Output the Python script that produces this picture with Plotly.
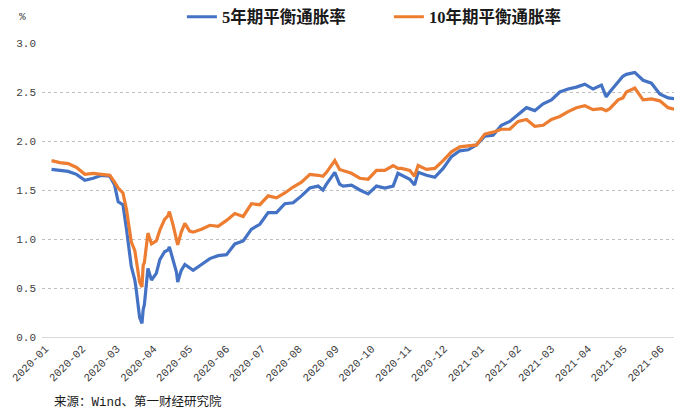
import plotly.graph_objects as go

dates = [
    "2020-01-02", "2020-01-09", "2020-01-16", "2020-01-23", "2020-01-30", "2020-02-06",
    "2020-02-13", "2020-02-20", "2020-02-24", "2020-02-27", "2020-03-02", "2020-03-05",
    "2020-03-09", "2020-03-12", "2020-03-13", "2020-03-16", "2020-03-18", "2020-03-19",
    "2020-03-20", "2020-03-23", "2020-03-26", "2020-03-30", "2020-04-02", "2020-04-06",
    "2020-04-09", "2020-04-10", "2020-04-13", "2020-04-16", "2020-04-17", "2020-04-20",
    "2020-04-23", "2020-04-27", "2020-04-30", "2020-05-07", "2020-05-14", "2020-05-21",
    "2020-05-28", "2020-06-04", "2020-06-11", "2020-06-18", "2020-06-25", "2020-07-02",
    "2020-07-09", "2020-07-16", "2020-07-23", "2020-07-30", "2020-08-06", "2020-08-13",
    "2020-08-17", "2020-08-20", "2020-08-27", "2020-08-31", "2020-09-03", "2020-09-10",
    "2020-09-17", "2020-09-24", "2020-10-01", "2020-10-08", "2020-10-15", "2020-10-19",
    "2020-10-22", "2020-10-29", "2020-11-02", "2020-11-05", "2020-11-12", "2020-11-19",
    "2020-11-26", "2020-12-03", "2020-12-10", "2020-12-17", "2020-12-24", "2020-12-31",
    "2021-01-07", "2021-01-14", "2021-01-21", "2021-01-28", "2021-02-04", "2021-02-11",
    "2021-02-18", "2021-02-25", "2021-03-04", "2021-03-11", "2021-03-18", "2021-03-25",
    "2021-04-01", "2021-04-08", "2021-04-12", "2021-04-15", "2021-04-22", "2021-04-26",
    "2021-04-29", "2021-05-06", "2021-05-13", "2021-05-20", "2021-05-27", "2021-06-03",
    "2021-06-10",
]

be_5y = [
    1.71, 1.70, 1.69, 1.66, 1.60, 1.62,
    1.65, 1.64, 1.55, 1.38, 1.35, 1.10,
    0.72, 0.58, 0.50, 0.20, 0.14, 0.28,
    0.33, 0.70, 0.58, 0.65, 0.79, 0.87,
    0.89, 0.92, 0.80, 0.66, 0.56, 0.68,
    0.74, 0.70, 0.68, 0.74, 0.80, 0.83,
    0.84, 0.95, 0.98, 1.10, 1.15, 1.27,
    1.27, 1.36, 1.37, 1.44, 1.52, 1.54,
    1.50, 1.56, 1.68, 1.56, 1.54, 1.55,
    1.50, 1.46, 1.54, 1.52, 1.54, 1.67,
    1.65, 1.61, 1.55, 1.68, 1.65, 1.63,
    1.72, 1.84, 1.90, 1.91, 1.96, 2.05,
    2.06, 2.16, 2.20, 2.27, 2.34, 2.31,
    2.38, 2.42, 2.50, 2.53, 2.55, 2.58,
    2.53, 2.57, 2.45, 2.50, 2.60, 2.66,
    2.68, 2.70, 2.62, 2.59, 2.48, 2.44,
    2.43,
]

be_10y = [
    1.80, 1.78, 1.77, 1.73, 1.66, 1.67,
    1.66, 1.65, 1.58, 1.52, 1.47, 1.30,
    0.97, 0.88, 0.80, 0.56, 0.51, 0.73,
    0.76, 1.06, 0.95, 0.98, 1.09, 1.20,
    1.24, 1.28, 1.15, 1.00, 0.94, 1.07,
    1.16, 1.08, 1.07, 1.10, 1.14, 1.13,
    1.19, 1.26, 1.23, 1.36, 1.35, 1.44,
    1.42, 1.47, 1.53, 1.58, 1.66, 1.65,
    1.64, 1.68, 1.80, 1.71, 1.70, 1.67,
    1.62, 1.61, 1.70, 1.70, 1.75, 1.72,
    1.72, 1.70, 1.64, 1.75, 1.71, 1.72,
    1.80, 1.89, 1.94, 1.95, 1.96, 2.07,
    2.09, 2.12, 2.12, 2.20, 2.22, 2.15,
    2.16, 2.22, 2.25, 2.30, 2.34, 2.36,
    2.32, 2.33, 2.31, 2.33, 2.42, 2.44,
    2.50, 2.54, 2.42, 2.43, 2.41, 2.34,
    2.32,
]

tick_vals = [
    "2020-01-01", "2020-02-01", "2020-03-01", "2020-04-01", "2020-05-01", "2020-06-01",
    "2020-07-01", "2020-08-01", "2020-09-01", "2020-10-01", "2020-11-01", "2020-12-01",
    "2021-01-01", "2021-02-01", "2021-03-01", "2021-04-01", "2021-05-01", "2021-06-01",
]
tick_text = [v[:7] for v in tick_vals]

y_ticks = [0.0, 0.5, 1.0, 1.5, 2.0, 2.5, 3.0]

series_names = ["5年期平衡通胀率", "10年期平衡通胀率"]
colors = ["#4472C4", "#ED7D31"]

fig = go.Figure()
for name, vals, col in zip(series_names, [be_5y, be_10y], colors):
    fig.add_trace(go.Scatter(
        x=dates, y=vals, mode="lines", name=name,
        line=dict(color=col, width=3.2),
    ))

tick_font = dict(family="Liberation Mono, Noto Sans CJK SC", size=11, color="#404040")

# page body adds an 8px margin, so the figure is 8px smaller and margins offset
fig.update_layout(
    width=674, height=410,
    margin=dict(l=34, r=2, t=35, b=81, autoexpand=False),
    paper_bgcolor="white", plot_bgcolor="white",
    showlegend=True,
    legend=dict(
        orientation="h", xref="container", x=0.258, xanchor="left",
        yref="container", y=0.978, yanchor="middle",
        font=dict(family="Liberation Serif, Noto Sans CJK SC", size=16.5, color="#1a1a1a", weight="bold"),
        itemwidth=30, entrywidth=162, bgcolor="rgba(0,0,0,0)",
    ),
    xaxis=dict(
        type="date", range=["2019-12-25", "2021-06-13"],
        tickvals=tick_vals, ticktext=tick_text, tickangle=-45,
        tickfont=tick_font, showgrid=False, showline=True,
        linecolor="#D9D9D9", linewidth=1, ticks="", zeroline=False,
        automargin=False, ticklabelshift=-5,
    ),
    yaxis=dict(
        range=[0, 3.0], tickvals=y_ticks, ticktext=[f"{v:.1f}" for v in y_ticks],
        tickfont=tick_font, showgrid=True, gridcolor="#BFBFBF", griddash="dot",
        gridwidth=1, zeroline=False, showline=False, ticks="", automargin=False,
        ticklabelstandoff=5,
    ),
    annotations=[
        dict(text="%", xref="paper", yref="paper", x=-0.031, y=1.088, xanchor="center",
             yanchor="middle", showarrow=False, font=tick_font),
        dict(text="来源：Wind、第一财经研究院", xref="paper", yref="paper",
             x=0.0157, xanchor="left", y=-0.221, yanchor="middle", showarrow=False,
             font=dict(family="Liberation Mono, Noto Sans CJK SC", size=12.5, color="#1a1a1a")),
    ],
)

fig.write_html("out.html")
